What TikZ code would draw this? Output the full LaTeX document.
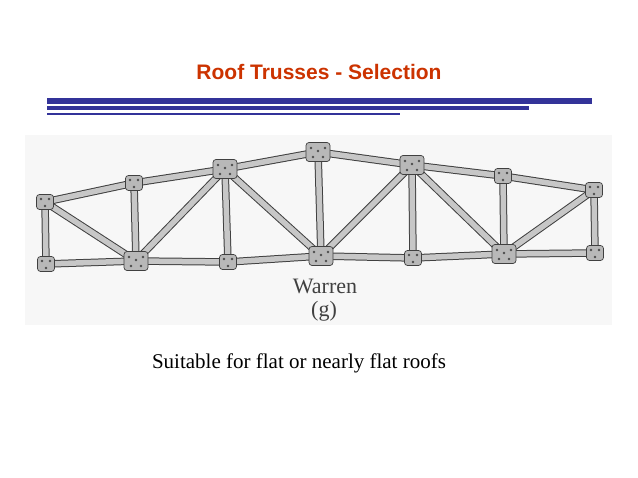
\documentclass[tikz,border=0pt]{standalone}
\usepackage{fontspec}
\setmainfont{Liberation Serif}
\newfontfamily\arialf{Liberation Sans}
\definecolor{titlered}{RGB}{204,51,0}
\definecolor{barblue}{RGB}{51,51,153}
\begin{document}
\begin{tikzpicture}[x=1pt,y=-1pt,
  member/.style={draw=black!75,line width=1pt,double=black!22,double distance=5.5pt},
  plate/.style={draw=black!75,fill=black!28,line width=0.7pt,rounded corners=3pt,minimum width=17pt,minimum height=15pt,inner sep=0pt},
  bigplate/.style={plate,minimum width=24pt,minimum height=19pt},
  lbl/.style={font=\fontsize{22}{26}\selectfont,text=black!75}]
\useasboundingbox[fill=white] (0,0) rectangle (638,478);
\fill[black!3] (25,135) rectangle (612,325);
\node[font=\arialf\bfseries\fontsize{21}{24}\selectfont,text=titlered] (title) at (319,72) {Roof Trusses - Selection};
\fill[barblue] (47,98.5) rectangle (592,104);
\fill[barblue] (47,106) rectangle (529,110);
\fill[barblue] (47,113) rectangle (400,115);
\coordinate (T0) at (45,202);
\coordinate (T1) at (134,183);
\coordinate (T2) at (225,169);
\coordinate (T3) at (318,152);
\coordinate (T4) at (412,165);
\coordinate (T5) at (503,176);
\coordinate (T6) at (594,190);
\coordinate (B0) at (46,264);
\coordinate (B1) at (136,261);
\coordinate (B2) at (228,262);
\coordinate (B3) at (321,256);
\coordinate (B4) at (413,258);
\coordinate (B5) at (504,254);
\coordinate (B6) at (595,253);
\foreach \i in {0,...,6}{\draw[member] (T\i) -- (B\i);}
\draw[member] (T0)--(T1)--(T2)--(T3)--(T4)--(T5)--(T6);
\draw[member] (B0)--(B1)--(B2)--(B3)--(B4)--(B5)--(B6);
\draw[member] (T0)--(B1)--(T2)--(B3)--(T4)--(B5)--(T6);
\foreach \n in {T0,T1,T5,T6,B0,B2,B4,B6}{
  \node[plate] (p\n) at (\n) {};
  \fill[black!70] ([shift={(-4,-3)}]\n) circle (1.4pt) ([shift={(4,-3)}]\n) circle (1.4pt) ([shift={(0,4)}]\n) circle (1.4pt);}
\foreach \n in {T2,T3,T4,B1,B3,B5}{
  \node[bigplate] (p\n) at (\n) {};
  \fill[black!70] ([shift={(-7,-4)}]\n) circle (1.4pt) ([shift={(7,-4)}]\n) circle (1.4pt) ([shift={(0,-1)}]\n) circle (1.4pt) ([shift={(-5,5)}]\n) circle (1.4pt) ([shift={(5,5)}]\n) circle (1.4pt);}
\node[lbl] (warren) at (325,286) {Warren};
\node[lbl] (g) at (324,311) {(g)};
\node[font=\fontsize{21}{24}\selectfont] (cap) at (299,363) {Suitable for flat or nearly flat roofs};
\end{tikzpicture}
\end{document}
